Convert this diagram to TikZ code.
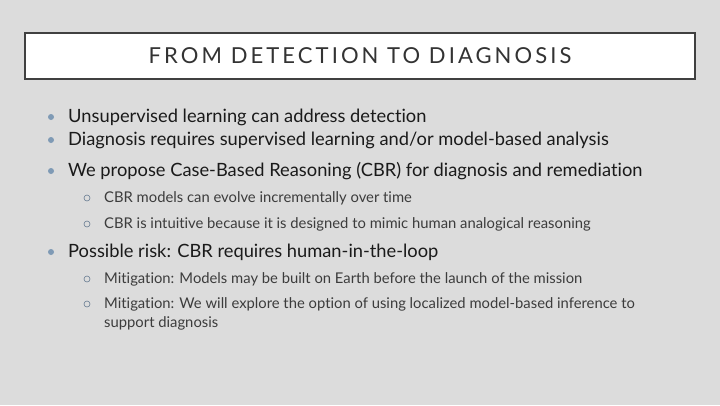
\documentclass[tikz,border=0pt]{standalone}
\usepackage{fontspec}
\setmainfont{Lato}[Ligatures={NoCommon}]
\definecolor{bg}{HTML}{DCDCDC}
\definecolor{dotc}{HTML}{7F9AB5}
\definecolor{txt}{HTML}{1A1A1A}
\begin{document}
\begin{tikzpicture}[x=1pt,y=-1pt,
  main/.style={anchor=west,inner sep=0,text=txt,font=\fontsize{18.3}{21}\selectfont},
  sub/.style={anchor=west,inner sep=0,text=txt!85,font=\fontsize{14.8}{18}\selectfont},
  dot/.style={circle,fill=dotc,inner sep=0,minimum size=6pt},
  hdot/.style={circle,draw=dotc!80!black,line width=0.6pt,inner sep=0,minimum size=6pt}]
\fill[bg] (0,0) rectangle (720,405);
\node[draw=black!75,line width=2.5pt,fill=white,minimum width=670pt,minimum height=46pt,inner sep=0] (title) at (360,56)
  {\fontsize{22}{26}\selectfont\addfontfeature{LetterSpace=14}\color{black!80}FROM DETECTION TO DIAGNOSIS};
\foreach \n/\y/\t in {a/117/{Unsupervised learning can address detection},
  b/140/{Diagnosis requires supervised learning and/or model-based analysis},
  c/171/{We propose Case-Based Reasoning (CBR) for diagnosis and remediation},
  d/252/{Possible risk: CBR requires human-in-the-loop}}
  {\node[dot] (d\n) at (51,\y) {}; \node[main] (t\n) at (68,\y) {\t};}
\foreach \n/\y/\t in {e/198/{CBR models can evolve incrementally over time},
  f/224/{CBR is intuitive because it is designed to mimic human analogical reasoning},
  g/279/{Mitigation: Models may be built on Earth before the launch of the mission},
  h/304/{Mitigation: We will explore the option of using localized model-based inference to}}
  {\node[hdot] (d\n) at (87,\y) {}; \node[sub] (t\n) at (104,\y) {\t};}
\node[sub] (ti) at (104,323) {support diagnosis};
\end{tikzpicture}
\end{document}
